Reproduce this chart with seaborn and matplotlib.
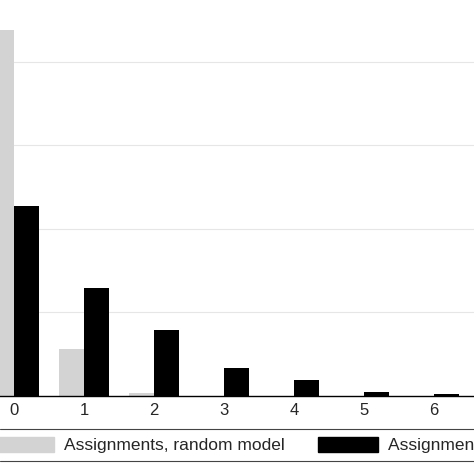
import matplotlib
matplotlib.use("Agg")
import matplotlib.pyplot as plt
import seaborn as sns
import pandas as pd
from matplotlib.patches import Patch

categories = [0, 1, 2, 3, 4, 5, 6]
random_model = [4.38, 0.56, 0.03, 0.0, 0.0, 0.0, 0.0]
observed = [2.27, 1.29, 0.79, 0.34, 0.19, 0.05, 0.02]
series = ["Assignments, random model", "Assignments, observed"]

df = pd.DataFrame({
    "cat": categories * 2,
    "val": random_model + observed,
    "series": [series[0]] * 7 + [series[1]] * 7,
})

sns.set_style("white")
plt.rcParams["font.family"] = ["Liberation Sans", "DejaVu Sans"]
fig = plt.figure(figsize=(4.74, 4.74), dpi=100)
ax = fig.add_axes([0, 78 / 474, 1, 396 / 474])
sns.barplot(data=df, x="cat", y="val", hue="series", palette=["#d3d3d3", "#000000"],
            width=0.72, ax=ax, legend=False, saturation=1, linewidth=0)
ax.set_xlim(-0.2, 6.571)
ax.set_ylim(0, 4.74)
ax.set_yticks([1, 2, 3, 4])
ax.yaxis.grid(True, color="#e6e6e6", linewidth=0.8)
ax.set_axisbelow(True)
ax.set_yticklabels([])
ax.tick_params(axis="y", length=0)
ax.tick_params(axis="x", length=0, labelsize=12, pad=5)
for s in ["left", "right", "top"]:
    ax.spines[s].set_visible(False)
ax.spines["bottom"].set_color("black")
ax.spines["bottom"].set_linewidth(1)
ax.set_xlabel("")
ax.set_ylabel("")

# legend frame lines
fig.add_artist(plt.Line2D([0, 1], [1 - 429 / 474] * 2, color="#444444", lw=0.8))
fig.add_artist(plt.Line2D([0, 1], [1 - 461 / 474] * 2, color="#444444", lw=0.8))
handles = [Patch(color="#d3d3d3"), Patch(color="black")]
leg = fig.legend(handles, series, loc="center left", bbox_to_anchor=(-0.045, 1 - 445 / 474),
                 ncol=2, frameon=False, fontsize=12.5, handlelength=3.45, handleheight=1.0,
                 columnspacing=1.95, handletextpad=0.55)
fig.savefig("out.png", dpi=100)
